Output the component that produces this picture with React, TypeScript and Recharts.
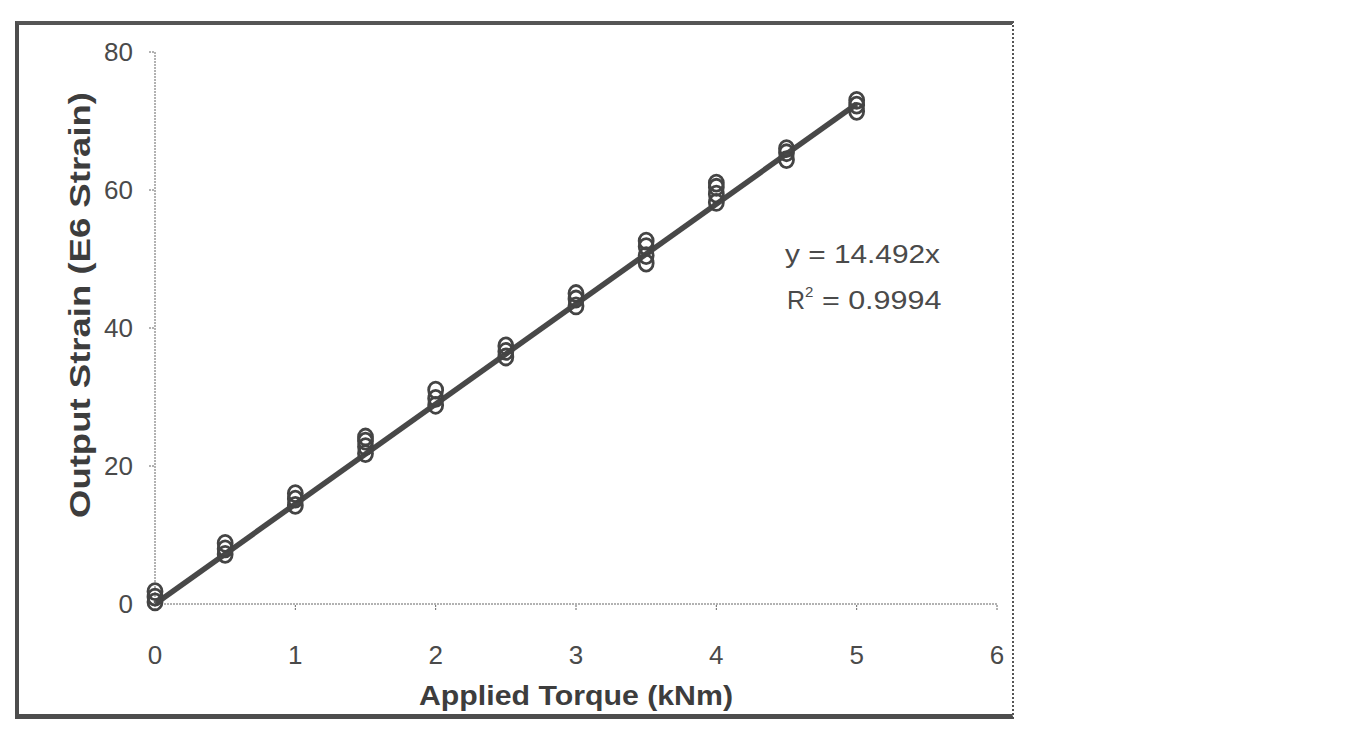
import { ComposedChart, Line, Scatter, XAxis, YAxis } from 'recharts'

// calibration readings
const torqueLevels = [0, 0.5, 1, 1.5, 2, 2.5, 3, 3.5, 4, 4.5, 5]
const strainReadings = [
  [0.3, 1.0, 1.8],
  [7.2, 8.0, 8.8],
  [14.3, 15.2, 16.0],
  [21.8, 22.8, 23.6, 24.2],
  [28.8, 29.8, 31.0],
  [35.8, 36.6, 37.4],
  [43.2, 44.2, 45.0],
  [49.4, 50.5, 51.8, 52.6],
  [58.2, 59.4, 60.4, 61.0],
  [64.4, 65.4, 66.0],
  [71.4, 72.3, 73.0],
]
const fitTorque = [0, 5]
const fitStrain = [0, 72.46]
const xTicks = [0, 1, 2, 3, 4, 5, 6]
const yTicks = [0, 20, 40, 60, 80]

const points = torqueLevels.flatMap((t, i) =>
  strainReadings[i].map((s) => ({ torque: t, strain: s }))
)
const fitData = fitTorque.map((t, i) => ({ torque: t, strain: fitStrain[i] }))

const FONT = "'Liberation Sans', Arial, sans-serif"
const INK = '#4a4a4a'

const OpenCircle = (props: any) => {
  const { cx, cy } = props
  if (cx == null || cy == null) return null
  return <ellipse cx={cx} cy={cy} rx={7} ry={8} fill="none" stroke="#444" strokeWidth={2.8} />
}

const YTitle = ({ viewBox }: any) => {
  const cx = viewBox.x + 80
  const cy = viewBox.y + viewBox.height / 2 - 23
  return (
    <text
      x={cx}
      y={cy}
      transform={`rotate(-90 ${cx} ${cy})`}
      textAnchor="middle"
      dominantBaseline="central"
      fontFamily={FONT}
      fontSize={29}
      fontWeight="bold"
      textLength={426}
      lengthAdjust="spacingAndGlyphs"
      fill="#3d3d3d"
    >
      Output Strain (E6 Strain)
    </text>
  )
}

const XTitle = ({ viewBox }: any) => (
  <text
    x={viewBox.x + viewBox.width / 2}
    y={viewBox.y + 101}
    textAnchor="middle"
    fontFamily={FONT}
    fontSize={28}
    fontWeight="bold"
    textLength={314}
    lengthAdjust="spacingAndGlyphs"
    fill="#3d3d3d"
  >
    Applied Torque (kNm)
  </text>
)

export default function App() {
  return (
    <div style={{ position: 'absolute', left: 0, top: 0, width: 1366, height: 749, background: '#fff' }}>
      <div
        style={{
          position: 'absolute',
          left: 15,
          top: 21,
          width: 999,
          height: 698,
          boxSizing: 'border-box',
          borderLeft: '4px solid #4d4d4d',
          borderTop: '4px solid #555',
          borderBottom: '5px solid #4d4d4d',
          borderRight: '2px dotted #555',
        }}
      />
      <div style={{ position: 'absolute', left: 0, top: 0 }}>
        <ComposedChart width={1020} height={730} margin={{ top: 52, right: 23, bottom: 66, left: 0 }}>
          <XAxis
            type="number"
            dataKey="torque"
            domain={[0, 6]}
            ticks={xTicks}
            height={60}
            tickSize={6}
            tickMargin={36}
            stroke="#666"
            strokeDasharray="2 1"
            tick={{ fontFamily: FONT, fontSize: 26, fill: INK }}
            label={<XTitle />}
          />
          <YAxis
            type="number"
            dataKey="strain"
            domain={[0, 80]}
            ticks={yTicks}
            width={155}
            tickSize={6}
            tickMargin={16}
            stroke="#666"
            strokeDasharray="2 1"
            tick={{ fontFamily: FONT, fontSize: 26, fill: INK }}
            label={<YTitle />}
          />
          <Scatter data={points} dataKey="strain" shape={<OpenCircle />} isAnimationActive={false} />
          <Line
            data={fitData}
            dataKey="strain"
            type="linear"
            stroke="#484848"
            strokeWidth={5.5}
            dot={false}
            activeDot={false}
            isAnimationActive={false}
          />
          <text x={785} y={263} fontFamily={FONT} fontSize={25} textLength={155} lengthAdjust="spacingAndGlyphs" fill={INK}>
            y = 14.492x
          </text>
          <text x={787} y={309} fontFamily={FONT} fontSize={25} fill={INK}>
            R
            <tspan fontSize={15} dy={-12}>2</tspan>
            <tspan dy={12} textLength={128} lengthAdjust="spacingAndGlyphs"> = 0.9994</tspan>
          </text>
        </ComposedChart>
      </div>
    </div>
  )
}
